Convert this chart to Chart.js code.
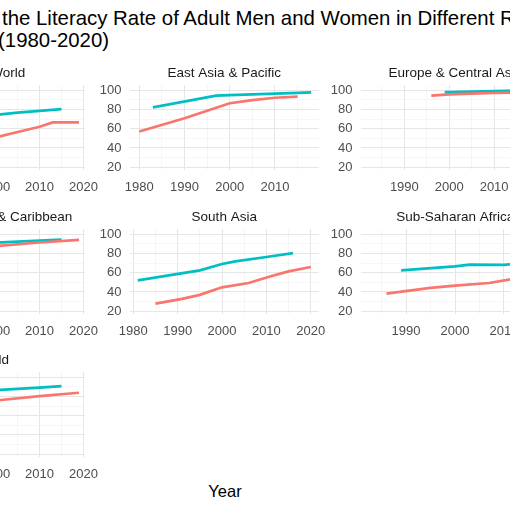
<!DOCTYPE html>
<html>
<head>
<meta charset="utf-8">
<script src="https://cdn.jsdelivr.net/npm/chart.js@4"></script>
<style>
  html, body { margin: 0; padding: 0; background: #fff; }
  #wrap { position: relative; width: 510px; height: 510px; overflow: hidden; background: #fff;
          font-family: "Liberation Sans", Arial, sans-serif; }
  canvas { position: absolute; }
  .title { position: absolute; white-space: nowrap; color: #000; font-size: 20.4px; line-height: 22px; }
  #xlab { position: absolute; left: 0; width: 450px; top: 482px; text-align: center; font-size: 16.5px; color: #000; }
</style>
</head>
<body>
<div id="wrap">
  <div class="title" style="left:2px; top:7px;">the Literacy Rate of Adult Men and Women in Different Regions</div>
  <div class="title" style="left:-2px; top:29px;">(1980-2020)</div>
  <div id="xlab">Year</div>
</div>
<script>
// ---- data (adult literacy rate, %) ----
const arabWorldYears   = [1990, 2000, 2005, 2010, 2013, 2015, 2019];
const arabWorldFemale  = [42, 51, 56.5, 62, 66.5, null, 66.5];
const arabWorldMale    = [65, 74.2, 76.6, 78.5, null, 80.2, null];

const eastAsiaYears    = [1980, 1983, 1990, 1997, 2000, 2005, 2010, 2015, 2018];
const eastAsiaFemale   = [57, null, 70.8, null, 86.3, 89.5, 92, 93.1, null];
const eastAsiaMale     = [null, 82.1, null, 94.2, 94.8, 95.4, 96.3, 97, 97.6];

const europeYears      = [1996, 1999, 2000, 2005, 2010, 2015, 2020];
const europeFemale     = [94.2, null, 95.4, 96.2, 96.9, 97.4, 97.8];
const europeMale       = [null, 97.8, 97.9, 98.4, 99.0, 99.3, 99.4];

const latinYears       = [1990, 2000, 2010, 2015, 2019];
const latinFemale      = [84, 87.5, 91.2, null, 94.0];
const latinMale        = [87.5, 91, 93.2, 94.3, null];

const southAsiaYears   = [1981, 1985, 1991, 1995, 2000, 2003, 2006, 2010, 2011, 2015, 2016, 2020];
const southAsiaFemale  = [null, 28, 32.8, 37, 44.8, null, 49.3, null, 56.2, 61.3, null, 65.9];
const southAsiaMale    = [52, null, null, 62.4, 69, 71.7, null, 76.2, null, null, 80.3, null];

const ssaYears         = [1986, 1989, 1995, 2000, 2003, 2007, 2010, 2011, 2014, 2018];
const ssaFemale        = [38.3, null, 44.2, 46.6, null, 49.3, null, 52.8, 56, 59];
const ssaMale          = [null, 62.4, null, 66.5, 68.3, null, 68, null, 70, 72];

const worldYears       = [1990, 2000, 2010, 2015, 2019];
const worldFemale      = [69.5, 75.7, 80.2, null, 83.7];
const worldMale        = [81.5, 86.4, 89, 90.5, null];

const seriesLabels = ["Female", "Male"];
const seriesColors = ["#F8766D", "#00BFC4"];
const yMajorStep = 20, yMinorStep = 10;
const xMajorStep = 10, xMinorStep = 5;

// ---- panel layout ----
const colLeft = [-101.5, 129.5, 360.5];
const rowTop  = [85, 229, 372];
const plotW = 189.5, plotH = 85;
const yAxisW = 45.5, titleH = 24, xAxisH = 30, padRight = 20;
const yRange = [17.2, 105.2];

const panels = [
  { title: "Arab World",                col: 0, row: 0, xr: [1977.8, 2020.3],  years: arabWorldYears, f: arabWorldFemale, m: arabWorldMale },
  { title: "East Asia & Pacific",       col: 1, row: 0, xr: [1977.83, 2019.73], years: eastAsiaYears,  f: eastAsiaFemale,  m: eastAsiaMale },
  { title: "Europe & Central Asia",     col: 2, row: 0, xr: [1980.23, 2022.45], years: europeYears,    f: europeFemale,    m: europeMale },
  { title: "Latin America & Caribbean", col: 0, row: 1, xr: [1977.8, 2020.3],  years: latinYears,     f: latinFemale,     m: latinMale },
  { title: "South Asia",                col: 1, row: 1, xr: [1979.14, 2021.87], years: southAsiaYears, f: southAsiaFemale, m: southAsiaMale },
  { title: "Sub-Saharan Africa",        col: 2, row: 1, xr: [1980.7, 2019.4],  years: ssaYears,       f: ssaFemale,       m: ssaMale },
  { title: "World",                     col: 0, row: 2, xr: [1977.8, 2020.3],  years: worldYears,     f: worldFemale,     m: worldMale }
];

const FONT = "'Liberation Sans', Arial, sans-serif";
const isMult = (v, step) => Math.abs(v / step - Math.round(v / step)) < 1e-6;

function gridOpts(major) {
  return {
    drawTicks: false,
    color: c => isMult(c.tick.value, major) ? "#E6E6E6" : "#F2F2F2",
    lineWidth: c => isMult(c.tick.value, major) ? 1 : 0.7
  };
}

// strip title drawn centered over the plot area
const stripTitle = {
  id: "stripTitle",
  afterDraw(chart, args, opts) {
    const a = chart.chartArea, ctx = chart.ctx;
    ctx.save();
    ctx.font = "13.5px " + FONT;
    ctx.fillStyle = "#1A1A1A";
    ctx.textAlign = "center";
    ctx.textBaseline = "middle";
    ctx.fillText(opts.text, (a.left + a.right) / 2, a.top - 11.7);
    ctx.restore();
  }
};

const wrap = document.getElementById("wrap");
panels.forEach(p => {
  const cv = document.createElement("canvas");
  const left = Math.round(colLeft[p.col] - yAxisW);
  const top = rowTop[p.row] - titleH;
  const w = Math.round(yAxisW + plotW + padRight);
  const h = titleH + plotH + xAxisH;
  cv.width = w; cv.height = h;
  cv.style.left = left + "px"; cv.style.top = top + "px";
  cv.style.width = w + "px"; cv.style.height = h + "px";
  wrap.appendChild(cv);

  const mk = (vals) => p.years.map((y, i) => ({ x: y, y: vals[i] }));
  new Chart(cv, {
    type: "line",
    data: {
      datasets: [
        { label: seriesLabels[0], data: mk(p.f), borderColor: seriesColors[0], backgroundColor: seriesColors[0],
          borderWidth: 2.7, pointRadius: 0, spanGaps: true, tension: 0 },
        { label: seriesLabels[1], data: mk(p.m), borderColor: seriesColors[1], backgroundColor: seriesColors[1],
          borderWidth: 2.7, pointRadius: 0, spanGaps: true, tension: 0 }
      ]
    },
    plugins: [stripTitle],
    options: {
      responsive: false, animation: false, devicePixelRatio: 1,
      layout: { padding: { left: 0, top: titleH, bottom: 0, right: w - yAxisW - plotW } },
      plugins: {
        legend: { display: false }, tooltip: { enabled: false }, title: { display: false },
        stripTitle: { text: p.title }
      },
      scales: {
        x: {
          type: "linear", min: p.xr[0], max: p.xr[1],
          border: { display: false },
          grid: gridOpts(xMajorStep),
          ticks: { stepSize: xMinorStep, includeBounds: false, autoSkip: false, maxRotation: 0, padding: 10,
                   color: "#4D4D4D", font: { family: FONT, size: 13 },
                   callback: v => isMult(v, xMajorStep) ? String(Math.round(v)) : "" },
          afterFit: s => { s.height = xAxisH; }
        },
        y: {
          type: "linear", min: yRange[0], max: yRange[1],
          border: { display: false },
          grid: gridOpts(yMajorStep),
          ticks: { stepSize: yMinorStep, includeBounds: false, autoSkip: false, padding: 8,
                   color: "#4D4D4D", font: { family: FONT, size: 13 },
                   callback: v => isMult(v, yMajorStep) ? String(Math.round(v)) : "" },
          afterFit: s => { s.width = yAxisW; }
        }
      }
    }
  });
});
</script>
</body>
</html>
